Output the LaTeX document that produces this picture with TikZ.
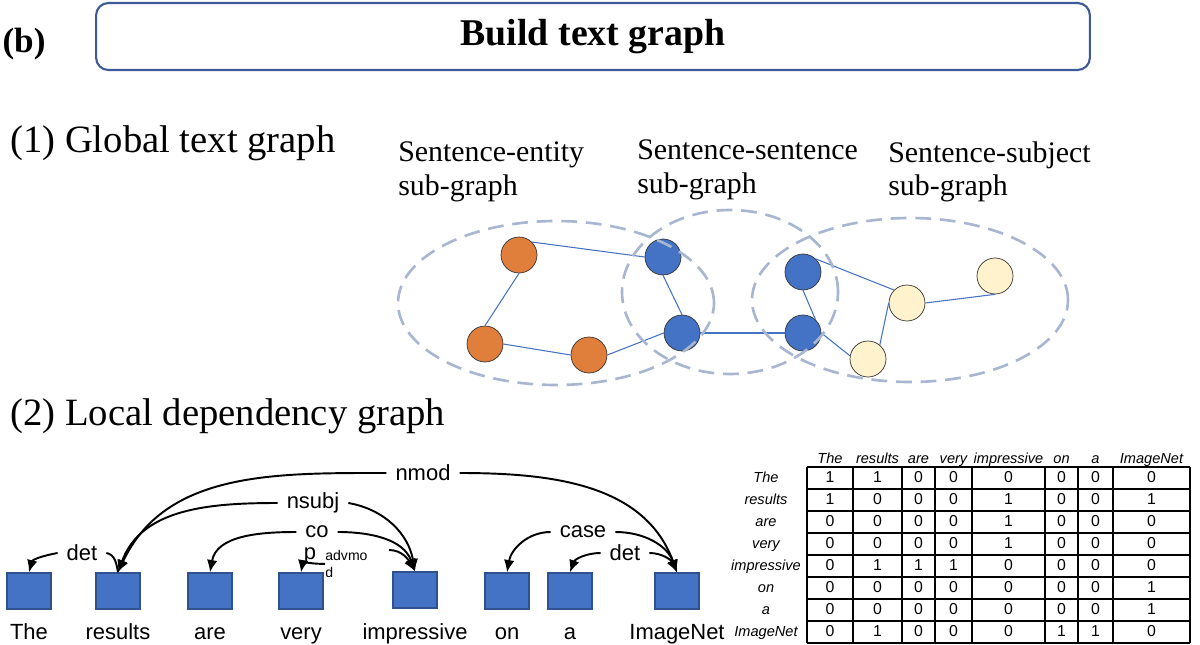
\documentclass[tikz,border=0pt]{standalone}
\usepackage{fontspec}
\setmainfont{Liberation Serif}
\setsansfont{Liberation Sans}
\usetikzlibrary{arrows.meta, positioning}

\definecolor{nodeblue}{HTML}{4472C4}
\definecolor{nodeorange}{HTML}{E07E3C}
\definecolor{nodeyellow}{HTML}{FFF2CC}
\definecolor{framebl}{HTML}{3C5A9A}
\definecolor{ringgray}{HTML}{A8B6D2}
\definecolor{tokedge}{HTML}{2F528F}

\begin{document}
\begin{tikzpicture}[
  x=0.02cm, y=0.02cm,
  >=Latex,
  titlebox/.style={draw=framebl, line width=1.2pt, rounded corners=7pt,
                   minimum width=19.88cm, minimum height=1.34cm},
  heading/.style={font=\fontsize{22}{26}\selectfont, anchor=west, inner sep=0pt},
  sublabel/.style={font=\fontsize{17}{19}\selectfont, align=left,
                   anchor=west, inner sep=0pt},
  ring/.style={draw=ringgray, line width=1.5pt, dash pattern=on 9pt off 5pt},
  vert/.style={circle, draw=black!80, line width=0.4pt, minimum size=0.72cm,
               inner sep=0pt},
  ent/.style={vert, fill=nodeorange},
  sen/.style={vert, fill=nodeblue},
  sub/.style={vert, fill=nodeyellow},
  link/.style={draw=nodeblue, line width=0.6pt},
  tok/.style={draw=tokedge, line width=0.8pt, fill=nodeblue,
              minimum width=0.88cm, minimum height=0.72cm, inner sep=0pt},
  word/.style={font=\sffamily\fontsize{12.5}{15}\selectfont, anchor=base,
               inner sep=0pt},
  rel/.style={font=\sffamily\fontsize{12.5}{15}\selectfont, inner xsep=5pt,
              inner ysep=2pt},
  dep/.style={-{Latex[length=7pt,width=6pt]}, line width=1.1pt},
  tabline/.style={line width=0.6pt},
  hdr/.style={font=\sffamily\itshape\fontsize{8.3}{9}\selectfont, inner sep=0pt,
              anchor=base},
  cell/.style={font=\sffamily\fontsize{9}{10}\selectfont, inner sep=0pt,
               anchor=base}
]
\useasboundingbox (0,0) rectangle (1200,-645);

%% -- title ----------------------------------------------------------
\node[font=\fontsize{20}{24}\selectfont\bfseries] (panel) at (24,-44) {(b)};
\node[titlebox] (title) at (593,-36.5)
  {\fontsize{21.5}{24}\selectfont\bfseries Build text graph};

%% -- (1) global text graph ------------------------------------------
\node[heading] (global) at (10,-143) {(1) Global text graph};

\node[sublabel] (lab-ent) at (398,-172) {Sentence-entity\\sub-graph};
\node[sublabel] (lab-sen) at (637,-170) {Sentence-sentence\\sub-graph};
\node[sublabel] (lab-sub) at (888,-172) {Sentence-subject\\sub-graph};

\node[ent] (ent1) at (519,-255) {};
\node[ent] (ent2) at (485,-344) {};
\node[ent] (ent3) at (589,-355) {};
\node[sen] (sen1) at (663,-257) {};
\node[sen] (sen2) at (682,-333) {};
\node[sen] (sen3) at (803,-272) {};
\node[sen] (sen4) at (803,-333) {};
\node[sub] (sub1) at (907,-303) {};
\node[sub] (sub2) at (995,-276) {};
\node[sub] (sub3) at (868,-359) {};

\draw[link] (ent1.45)    -- (sen1.west);
\draw[link] (ent1.south) -- (ent2.north);
\draw[link] (ent2.east)  -- (ent3.west);
\draw[link] (ent3.east)  -- (sen2.west);
\draw[link] (sen1.south) -- (sen2.north);
\draw[link] (sen2.east)  -- (sen4.west);
\draw[link] (sen3.south) -- (sen4.47);
\draw[link] (sen3.45)    -- (sub1.135);
\draw[link] (sen4.east)  -- (sub3.170);
\draw[link] (sub3.50)    -- (sub1.west);
\draw[link] (sub1.east)  -- (sub2.south);

\draw[ring] (556,-303) ellipse [x radius=158, y radius=82];
\draw[ring] (730,-292) ellipse [x radius=108, y radius=82];
\draw[ring] (910,-300) ellipse [x radius=158, y radius=82];

%% -- (2) local dependency graph -------------------------------------
\node[heading] (local) at (10,-416) {(2) Local dependency graph};

\coordinate (base) at (0,-639);
\node[tok] (tk-the)  at (29,-591)  {};
\node[tok] (tk-res)  at (118,-591) {};
\node[tok] (tk-are)  at (210,-591) {};
\node[tok] (tk-very) at (301,-591) {};
\node[tok] (tk-imp)  at (415,-590) {};
\node[tok] (tk-on)   at (507,-591) {};
\node[tok] (tk-a)    at (570,-591) {};
\node[tok] (tk-img)  at (677,-591) {};

\node[word] (w-the)  at (tk-the |- base)  {The};
\node[word] (w-res)  at (tk-res |- base)  {results};
\node[word] (w-are)  at (tk-are |- base)  {are};
\node[word] (w-very) at (tk-very |- base) {very};
\node[word] (w-imp)  at (tk-imp |- base)  {impressive};
\node[word] (w-on)   at (tk-on |- base)   {on};
\node[word] (w-a)    at (tk-a |- base)    {a};
\node[word] (w-img)  at (tk-img |- base)  {ImageNet};

\node[rel] (r-det1)  at (82,-553)  {det};
\node[rel] (r-nsubj) at (313,-503) {nsubj};
\node[rel] (r-cop)   at (317,-532) {co};
\node[rel, inner sep=0pt] (r-copp) at (310,-556) {p};
\node[font=\sffamily\fontsize{8}{9.6}\selectfont, align=left, inner sep=0pt,
      anchor=north west] (r-advmod) at (325,-550) {advmo\\d};
\node[rel] (r-nmod)  at (423,-473) {nmod};
\node[rel] (r-case)  at (583,-532) {case};
\node[rel] (r-det2)  at (625,-553) {det};

\draw[dep] (r-nmod.west)  to[out=180,in=65]  (tk-res.north);
\draw[dep] (r-nmod.east)  to[out=0,in=110]   (tk-img.north);
\draw[dep] (r-nsubj.west) to[out=180,in=70]  (tk-res.north);
\draw[dep] (r-nsubj.east) to[out=-10,in=100] (tk-imp.north);
\draw[dep] (r-cop.west)   to[out=180,in=80]  (tk-are.north);
\draw[dep] (r-cop.east)   to[out=0,in=110]   (tk-imp.north);
\draw[dep] (r-advmod.west) to[out=180,in=80] (tk-very.north);
\draw[dep] ([xshift=12pt]r-advmod.north east) to[out=0,in=120] (tk-imp.north);
\draw[dep] (r-det1.west)  to[out=190,in=75]  (tk-the.north);
\draw[line width=1.1pt] (r-det1.east) to[out=-10,in=100] (tk-res.north);
\draw[dep] (r-case.west)  to[out=180,in=80]  (tk-on.north);
\draw[dep] (r-case.east)  to[out=0,in=110]   (tk-img.north);
\draw[dep] (r-det2.west)  to[out=180,in=70]  (tk-a.north);
\draw[dep] (r-det2.east)  to[out=0,in=115]   (tk-img.north);

%% -- adjacency table ------------------------------------------------
\foreach \xa in {807,853,902,935,972,1045,1078,1113,1190}
  \draw[tabline] (\xa,-467) -- (\xa,-643);
\foreach \ya in {467,489,...,643}
  \draw[tabline] (807,-\ya) -- (1190,-\ya);

\foreach \w/\cx [count=\i] in {The/830,results/877.5,are/918.5,very/953.5,
    impressive/1008.5,on/1061.5,a/1095.5,ImageNet/1151.5} {
  \node[hdr] (col-\i) at (\cx,-463) {\w};
  \node[hdr] (row-\i) at (766,{-460-22*\i}) {\w};
}

\foreach \vals [count=\r] in {{1,1,0,0,0,0,0,0},{1,0,0,0,1,0,0,1},
    {0,0,0,0,1,0,0,0},{0,0,0,0,1,0,0,0},{0,1,1,1,0,0,0,0},
    {0,0,0,0,0,0,0,1},{0,0,0,0,0,0,0,1},{0,1,0,0,0,1,1,0}}
  \foreach \v [count=\c] in \vals {
    \pgfmathsetmacro{\cx}{{830,877.5,918.5,953.5,1008.5,1061.5,1095.5,1151.5}[\c-1]}
    \node[cell] (m-\r-\c) at (\cx,{-460-22*\r}) {\v};
  }

\end{tikzpicture}
\end{document}
